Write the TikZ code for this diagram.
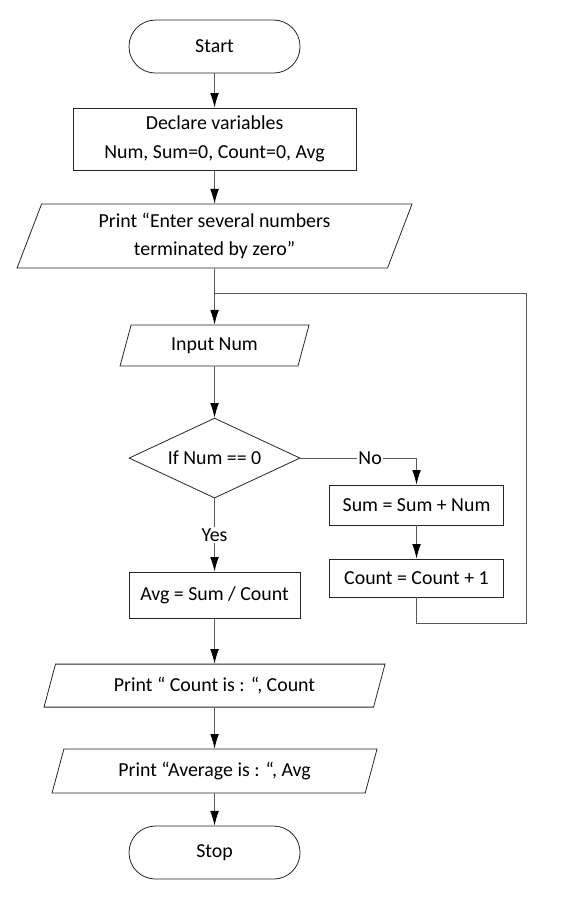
\documentclass[tikz,border=0pt]{standalone}
\usepackage{fontspec}
\setmainfont{Carlito}
\usetikzlibrary{positioning,shapes.geometric,arrows.meta}
\tikzset{>={Latex[length=11pt,width=6.5pt,color=black]}}
\tikzset{
  term/.style={draw=black!85, rectangle, rounded corners=19.8pt, minimum width=128.25pt, minimum height=39.75pt},
  proc/.style={draw=black!85, rectangle, align=center},
  io/.style={draw=black!85, trapezium, trapezium left angle=66, trapezium right angle=-66, trapezium stretches body, align=center},
  decision/.style={draw=black!85, diamond, inner sep=0pt, aspect=2.14},
  line/.style={draw=black!65}
}

\begin{document}
\begin{tikzpicture}[line width=0.6pt, font=\fontsize{14.9}{21.5}\selectfont]
      \useasboundingbox (0,0) rectangle (435pt,-675pt);
      \node[term] (n0) at (160.9pt,-34.9pt) {Start};
      \node[proc, below of=n0, node distance=69.4pt, minimum width=212.25pt, minimum height=46.5pt] (n1) {Declare variables\\Num, Sum=0, Count=0, Avg};
      \node[io, below of=n1, node distance=72.75pt, minimum width=296.25pt, minimum height=48pt] (n2) {Print “Enter several numbers\\terminated by zero”};
      \node[io, below of=n2, node distance=82.1pt, minimum width=141.75pt, minimum height=30.75pt] (n3) {Input Num};
      \node[decision, below of=n3, node distance=84.4pt, minimum width=128.25pt, minimum height=60pt] (n4) {If Num == 0};
      \coordinate[right of=n4, node distance=151.5pt] (aux1);
      \node[proc, below of=aux1, node distance=35.25pt, minimum width=130.5pt, minimum height=30pt] (n5) {Sum = Sum + Num};
      \node[proc, below of=n5, node distance=54.75pt, minimum width=130.5pt, minimum height=28.5pt] (n6) {Count = Count + 1};
      \node[proc, below of=n4, node distance=102.75pt, minimum width=128.25pt, minimum height=34.5pt] (n7) {Avg = Sum / Count};
      \node[io, below of=n7, node distance=67.9pt, minimum width=255.75pt, minimum height=32.25pt] (n8) {Print “ Count is : “, Count};
      \node[io, below of=n8, node distance=64.1pt, minimum width=243.75pt, minimum height=33pt] (n9) {Print “Average is : “, Avg};
      \node[term, below of=n9, node distance=61.1pt] (n10) {Stop};
      \coordinate[below of=n6, node distance=33.75pt] (aux2);
      \coordinate[right of=aux2, node distance=82.5pt] (aux3);
      \coordinate[above of=n3, node distance=39.4pt] (aux4);
      \draw[line, ->] (n0) to (n1);
      \draw[line, ->] (n1) to (n2);
      \draw[line, ->] (n2) to (n3);
      \draw[line, ->] (n3) to (n4);
      \draw[line, ->] (n4.east) -| (n5) node[pos=0.3, fill=white, inner sep=1pt, text=black]{No};
      \draw[line, ->] (n5) to (n6);
      \draw[line] (n6) to (aux2) to (aux3) |- (aux4);
      \draw[line, ->] (n4.south) to node[midway, fill=white, inner sep=1pt, text=black]{Yes} (n7);
      \draw[line, ->] (n7) to (n8);
      \draw[line, ->] (n8) to (n9);
      \draw[line, ->] (n9) to (n10);
    \end{tikzpicture}
\end{document}
